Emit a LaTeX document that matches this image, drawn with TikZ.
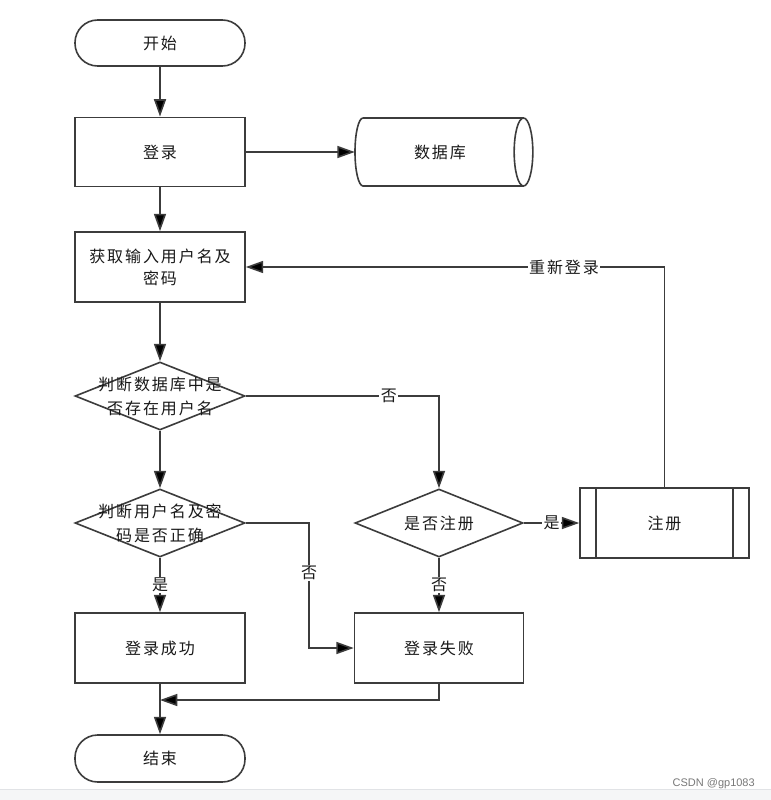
\documentclass[tikz,border=0pt]{standalone}
\usepackage{fontspec}
\newfontfamily\cjk[LetterSpace=12]{Noto Sans CJK SC}
\newfontfamily\wmfont{Liberation Sans}
\usetikzlibrary{shapes.geometric,arrows.meta,calc}
\definecolor{lc}{RGB}{60,60,60}
\definecolor{tc}{RGB}{25,25,25}
\definecolor{barbg}{RGB}{245,246,247}
\definecolor{barline}{RGB}{225,227,230}
\definecolor{wmc}{RGB}{120,120,120}
\begin{document}
\begin{tikzpicture}[x=0.75pt,y=-0.75pt,
  every node/.style={font=\cjk\fontsize{12pt}{18pt}\selectfont, text=tc},
  term/.style={draw=lc, line width=1.2pt, rounded corners=17pt, minimum width=127.5pt, minimum height=34.5pt, inner sep=0},
  procbox/.style={draw=lc, line width=1.2pt, minimum width=127.5pt, minimum height=52pt, inner sep=0, align=center},
  dec/.style={diamond, draw=lc, line width=1.2pt, minimum width=127.5pt, minimum height=51pt, inner sep=0},
  dectext/.style={align=center, inner sep=0},
  conn/.style={draw=lc, line width=1.2pt, -{Triangle[length=13pt,width=9pt,fill=black]}},
  shapeline/.style={draw=lc, line width=1.2pt},
  edgelab/.style={fill=white, inner sep=1pt},
]
% background and bounding box
\fill[white] (0,0) rectangle (771,800);
\useasboundingbox (0,0) rectangle (771,800);

% nodes
\node[term] (start) at (160,43) {开始};
\node[procbox] (login) at (160,152) {登录};
\node[minimum width=127.5pt, minimum height=51pt, inner sep=0] (db) at (440,152) {数据库};
\node[procbox, minimum height=52.5pt, font=\cjk\fontsize{12pt}{16.5pt}\selectfont] (input) at (160,267) {获取输入用户名及\\密码};
\node[dec] (d1) at (160,396) {};
\node[dectext] (d1t) at (d1.center) {判断数据库中是\\否存在用户名};
\node[dec] (d2) at (160,523) {};
\node[dectext] (d2t) at (d2.center) {判断用户名及密\\码是否正确};
\node[dec, minimum width=126pt] (d3) at (439,523) {};
\node[dectext] (d3t) at (d3.center) {是否注册};
\node[procbox, minimum width=126.75pt, minimum height=52.5pt] (reg) at (664.5,523) {注册};
\node[procbox, minimum height=52.5pt] (success) at (160,648) {登录成功};
\node[procbox, minimum width=126.75pt, minimum height=52.5pt] (fail) at (439,648) {登录失败};
\node[term, minimum height=35.25pt] (end) at (160,758.5) {结束};

% database cylinder outline
\draw[shapeline] (363,118) arc[start angle=90, end angle=270, x radius=6pt, y radius=25.5pt]
  -- (523.5,186);
\draw[shapeline] (363,118) -- (523.5,118);
\draw[shapeline] (523.5,152) ellipse[x radius=7pt, y radius=25.5pt];

% predefined process inner lines
\draw[shapeline] ($(reg.north west)+(17,0)$) -- ($(reg.south west)+(17,0)$);
\draw[shapeline] ($(reg.north east)+(-17,0)$) -- ($(reg.south east)+(-17,0)$);

% connectors
\draw[conn] (start) -- (login);
\draw[conn] (login) -- (db);
\draw[conn] (login) -- (input);
\draw[conn] (input) -- (d1);
\draw[conn] (d1) -- (d2);
\draw[conn] (d1.east) -| node[edgelab,pos=0.37]{否} (d3.north);
\draw[conn] (d3.east) -- node[edgelab]{是} (reg.west);
\draw[conn] (reg.north) |- node[edgelab,pos=0.62]{重新登录} (input.east);
\draw[conn] (d3.south) -- node[edgelab]{否} (fail.north);
\coordinate (k1) at (309,523);
\draw[conn] (d2.east) -- (k1) |- node[edgelab,pos=0.2]{否} (fail.west);
\draw[conn] (d2) -- node[edgelab]{是} (success);
\draw[conn] (success) -- (end);
\coordinate (j) at (160,700);
\draw[conn] (fail.south) |- (j);

% page footer
\fill[barbg] (0,789) rectangle (771,800);
\draw[barline, line width=0.75pt] (0,789) -- (771,789);
\node[anchor=base east, inner sep=0, font=\wmfont\fontsize{8.25pt}{10pt}\selectfont, text=wmc] (wm) at (755,786) {CSDN @gp1083};
\end{tikzpicture}
\end{document}
